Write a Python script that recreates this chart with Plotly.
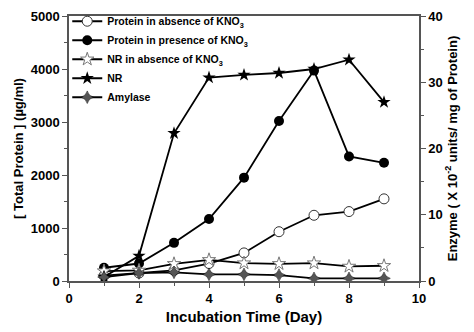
import plotly.graph_objects as go

days = [1, 2, 3, 4, 5, 6, 7, 8, 9]
# left axis: total protein (ug/ml)
protein_absence = [100, 150, 200, 330, 530, 930, 1240, 1310, 1550]
protein_presence = [250, 330, 720, 1170, 1950, 3020, 3970, 2350, 2230]
# right axis: enzyme (x10^-2 units / mg protein)
nr_absence = [1.5, 1.6, 2.6, 3.2, 2.7, 2.6, 2.7, 2.2, 2.3]
nr = [0.6, 3.8, 22.3, 30.7, 31.1, 31.4, 32.0, 33.4, 27.0]
amylase = [0.6, 1.2, 1.3, 1.0, 1.0, 0.9, 0.4, 0.4, 0.4]

x_ticks = [0, 2, 4, 6, 8, 10]
y_ticks = [0, 1000, 2000, 3000, 4000, 5000]
y2_ticks = [0, 10, 20, 30, 40]

FONT = "Liberation Sans, Arial, sans-serif"
line = dict(color="black", width=1.8)

fig = go.Figure()
fig.add_trace(go.Scatter(x=days, y=protein_absence, mode="lines+markers",
    name="Protein in absence of KNO<sub>3</sub>", line=line,
    marker=dict(symbol="circle", size=10, color="white", line=dict(color="#333", width=1))))
fig.add_trace(go.Scatter(x=days, y=protein_presence, mode="lines+markers",
    name="Protein in presence of KNO<sub>3</sub>", line=line,
    marker=dict(symbol="circle", size=10, color="black")))
fig.add_trace(go.Scatter(x=days, y=nr_absence, mode="lines+markers", yaxis="y2",
    name="NR in absence of KNO<sub>3</sub>", line=line,
    marker=dict(symbol="star", size=10, color="white", line=dict(color="#777", width=1))))
fig.add_trace(go.Scatter(x=days, y=nr, mode="lines+markers", yaxis="y2",
    name="NR", line=line,
    marker=dict(symbol="star", size=10, color="black")))
fig.add_trace(go.Scatter(x=days, y=amylase, mode="lines+markers", yaxis="y2",
    name="Amylase", line=line,
    marker=dict(symbol="star-diamond", size=9, color="#555", line=dict(color="black", width=0.5))))

axis_common = dict(showline=True, linecolor="#555", linewidth=1.5, ticks="outside",
                   ticklen=5, tickcolor="#555", showgrid=False, zeroline=False,
                   tickfont=dict(family=FONT, size=13, color="black", weight="bold"))

fig.update_layout(
    width=474, height=332,
    margin=dict(l=69, r=55, t=7, b=51),
    paper_bgcolor="white", plot_bgcolor="white",
    showlegend=True,
    legend=dict(x=-0.005, y=1.035, xanchor="left", yanchor="top", bgcolor="rgba(0,0,0,0)",
                font=dict(family=FONT, size=10.5, color="black", weight="bold"),
                tracegroupgap=0, itemwidth=30),
    xaxis=dict(range=[0, 10], tickvals=x_ticks, mirror=True,
               minor=dict(ticks="outside", dtick=1, ticklen=3, tickcolor="#555"),
               title=dict(text="Incubation Time (Day)", standoff=6,
                          font=dict(family=FONT, size=15, color="black", weight="bold")),
               **axis_common),
    yaxis=dict(range=[0, 5000], tickvals=y_ticks,
               minor=dict(ticks="outside", dtick=500, ticklen=3, tickcolor="#555"),
               title=dict(text="[ Total Protein ] (µg/ml)", standoff=4,
                          font=dict(family=FONT, size=13, color="black", weight="bold")),
               **axis_common),
    yaxis2=dict(range=[0, 40], tickvals=y2_ticks, overlaying="y", side="right",
                minor=dict(ticks="outside", dtick=5, ticklen=3, tickcolor="#555"),
                title=dict(text="Enzyme ( X 10<sup>-2</sup> units/ mg of Protein)", standoff=6,
                           font=dict(family=FONT, size=13, color="black", weight="bold")),
                **axis_common),
)

fig.write_html("out.html")
